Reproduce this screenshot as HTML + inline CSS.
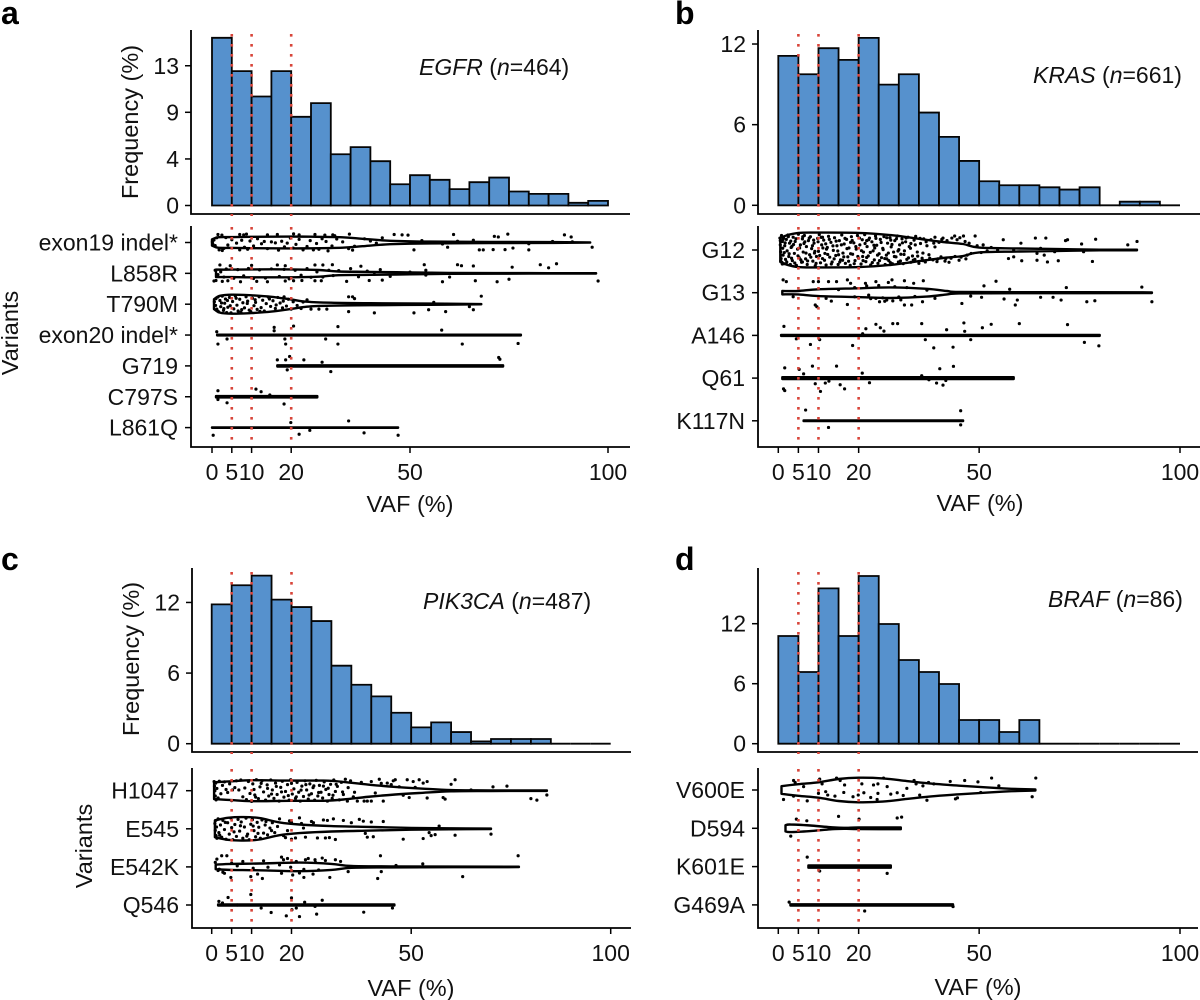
<!DOCTYPE html>
<html lang="en">
<head>
<meta charset="utf-8">
<title>VAF distributions</title>
<style>
html,body{margin:0;padding:0;background:#fff;}
svg{display:block;font-family:"Liberation Sans",sans-serif;}
</style>
</head>
<body>
<svg id="chart" xmlns="http://www.w3.org/2000/svg" width="1200" height="1000" viewBox="0 0 1200 1000"></svg>
<script>
const vafTicks=[0,5,10,20,50,100];
const cutoffs=[5,10,20];

const egfrBins=[15.6,12.5,10.14,12.5,8.25,9.52,4.77,5.43,4.12,1.98,2.82,2.39,1.52,2.17,2.6,1.3,1.08,1.08,.25,.43];
const krasBins=[11.12,9.75,11.69,10.82,12.46,8.98,9.75,6.9,5.09,3.3,1.79,1.49,1.49,1.34,1.17,1.34,0,.27,.27,0];
const pik3caBins=[11.84,13.46,14.28,12.24,11.61,10.42,6.63,5.01,4.02,2.63,1.39,1.81,.99,.2,.4,.4,.4,0,0,0];
const brafBins=[10.77,7.17,15.53,10.77,16.77,11.97,8.37,7.17,5.97,2.37,2.37,1.17,2.37,0,0,0,0,0,0,0];

const egfrFreqTicks=[0,4.33,8.67,13];
const egfrFreqLabels=["0","4","9","13"];
const krasFreqTicks=[0,6,12];
const krasFreqLabels=["0","6","12"];
const pik3caFreqTicks=[0,6,12];
const pik3caFreqLabels=["0","6","12"];
const brafFreqTicks=[0,6,12];
const brafFreqLabels=["0","6","12"];

const egfrVariants=["exon19 indel*","L858R","T790M","exon20 indel*","G719","C797S","L861Q"];
const krasVariants=["G12","G13","A146","Q61","K117N"];
const pik3caVariants=["H1047","E545","E542K","Q546"];
const brafVariants=["V600E","D594","K601E","G469A"];

/* violin outlines: [VAF, half width in jitter-band units] */
const egfrViolins=[
[[0,.25],[1.5,.42],[5,.44],[10,.46],[20,.48],[25,.47],[33,.42],[38,.3],[45,.14],[55,.07],[70,.05],[85,.03],[95.5,.01]],
[[1,.3],[5,.3],[10,.32],[20,.32],[27,.27],[32,.15],[40,.12],[50,.08],[60,.04],[80,.02],[97,.01]],
[[.5,.4],[2,.68],[5,.77],[10,.72],[15,.6],[20,.38],[24,.2],[30,.12],[40,.08],[55,.05],[68,.01]],
[[1.3,.03],[78,.03]],
[[16.5,.05],[73.5,.05]],
[[1,.05],[26.6,.05]],
[[0,.02],[47,.02]]
];
const krasViolins=[
[[.5,.7],[2,.85],[5,1],[10,1.02],[20,1],[28,.87],[37,.59],[41,.47],[46,.35],[50,.14],[60,.09],[70,.05],[80,.02],[89.3,.02]],
[[1,.1],[5,.1],[10,.2],[20,.26],[28,.31],[37,.23],[42,.1],[45,.04],[60,.03],[93,.02]],
[[.7,.03],[80,.03]],
[[1,.05],[58.6,.05]],
[[6.3,.02],[46,.02]]
];
const pik3caViolins=[
[[.6,.55],[5,.62],[10,.69],[20,.66],[28,.66],[33,.58],[40,.38],[46,.25],[52,.15],[60,.04],[70,.02],[84,.01]],
[[.8,.55],[4,.72],[8,.77],[12,.7],[17,.42],[22,.28],[30,.18],[40,.12],[50,.06],[60,.03],[70,.01]],
[[1,.15],[5,.2],[12,.22],[22,.28],[30,.2],[35,.06],[45,.03],[77,.01]],
[[1.6,.03],[45.8,.03]]
];
const brafViolins=[
[[.8,.25],[5,.38],[10,.5],[15,.72],[20,.8],[26,.76],[32,.58],[38,.42],[45,.28],[52,.17],[58,.08],[64,.03]],
[[1.8,.2],[3,.25],[8,.18],[14,.05],[17,.03],[20,.05],[30.5,.06]],
[[7.5,.07],[28,.07]],
[[3,.04],[43.5,.04]]
];

/* jittered samples: [VAF, jitter in hundredths of the band] */
const egfrExon19=[[1.5,-65],[2.5,-60],[7,-65],[8,-62],[8.7,-68],[14,-62],[16.5,-65],[20.6,-70],[22,-62],[26,-65],[28.5,-60],[30.5,-62],[31,-55],[34.7,-68],[46,-65],[48,-62],[49.5,-60],[61,-65],[71.3,-50],[72.3,-45],[74.7,-68],[89,-62],[90.7,-45],
[.2,12],[.1,-5],[.5,-20],[.8,25],[1.2,-38],[1.8,60],[2.6,65],[3,48],[3.5,-40],[4,20],[5,-22],[6.2,5],[7,60],[7.5,-18],[8.2,38],[9,55],[9.6,-12],[10.5,28],[11.5,-30],[12.5,10],[13.2,-8],[14,50],[15,-5],[16,3],[16.8,62],[17.6,-10],[18.3,35],[19,5],[19.8,-35],[20.5,45],[21.2,15],[22,-25],[23,60],[24,32],[24.8,-15],[25.6,60],[26.4,8],[27,55],[27.8,-30],[28.8,-8],[29.3,68],[30.3,28],[31.5,-28],[33,-5],[34.5,50],[35.5,62],[36,30],[38.5,-30],[40,-12],[41.5,5],[43,-38],[51,60],[53,-15],[58.2,12],[59.5,38],[62,-10],[67.5,60],[68.5,60],[71,58],[74,58],[76,45],[80,10],[80,60],[96,38],[86,-8],[66,-18],[91,-5]];
const egfrL858R=[[2,-68],[4.6,-62],[10,-65],[16.5,-68],[18.5,-62],[26,-68],[28,-68],[30.4,-70],[37.6,-58],[53.6,-70],[62,-70],[63,-62],[66,-60],[75.8,-50],[82.9,-70],[85,-45],[87,-78],
[.5,62],[1,58],[2.6,65],[4,60],[7.2,68],[11.3,65],[14,68],[18.5,62],[20.6,60],[22.7,58],[26,60],[27.6,60],[34,65],[39.7,58],[43,55],[58.2,68],[66.5,60],[72,68],[75,48],[97.5,62],
[.8,-25],[1.5,10],[2.2,-12],[3,30],[3.6,-35],[5.5,40],[6.5,-30],[8,20],[9.2,-40],[10.5,42],[12,-28],[13.5,38],[15,-35],[17,25],[18.2,-32],[19.5,45],[21,-25],[22.5,15],[24,-38],[25,32],[26.5,-12],[28,30],[29.5,-25],[30.6,18],[32,-22],[35,-38],[37,28],[39.2,-18],[41,8],[42.5,-30],[45,25],[50,-10],[54,-25],[54,14],[60,30]];
const egfrT790M=[[34.5,-60],[35.5,-60],[36,-45],[68,-65],[24,-35],[29,40],[27,40],[25,40],[34.5,60],[41,70],[51,70],[54.7,45],[59,60],[66,45],[65,20],[56,-15],
[.6,-20],[.9,10],[1.2,40],[1.5,-58],[1.7,62],[2,-30],[2.2,20],[2.6,-65],[2.9,50],[3.2,-8],[3.4,-42],[3.7,68],[4,25],[4.4,-55],[4.8,70],[5.2,-22],[5.5,38],[5.9,-66],[6.3,8],[6.6,55],[7,-40],[7.3,65],[7.8,-12],[8.2,30],[8.6,-60],[9,-25],[9.4,48],[9.8,60],[10.2,-48],[10.6,12],[11,-15],[11.4,42],[11.9,-60],[12.4,28],[12.8,-32],[13.2,55],[13.7,-5],[14.2,-58],[14.8,18],[15.4,-28],[16,35],[16.6,-55],[17.2,-10],[17.8,30],[18.2,-60],[18.8,15],[19.3,-40],[20,40],[20.5,-20],[21.5,10],[22.5,35],[23,-18],[1,-45],[1.4,55],[2.4,-10],[3,36],[3.9,-30],[4.6,12],[6.1,-48],[7.5,44],[8.9,-6],[10.9,-36],[12.1,58],[14.5,-42],[16.2,6],[18,-25]];
const egfrExon20=[[1.2,-27],[1.5,73],[3.8,32],[15.7,-62],[15.7,-35],[18.4,32],[18.6,73],[20.6,-73],[28.7,32],[31.8,-68],[31.8,73],[58,-40],[63.2,73],[77.3,68]];
const egfrG719=[[16.5,-49],[18.6,-49],[19.6,-76],[19,32],[23.2,-49],[27.8,-30],[30,46],[72.4,-68],[72.7,-54]];
const egfrC797S=[[1.5,-49],[1.5,22],[3.8,49],[11.1,-62],[12.4,-41],[18.2,59],[14.6,-14]];
const egfrL861Q=[[.3,62],[19.9,-41],[22,54],[24.7,22],[34.5,-54],[38.4,43],[47,62]];

const krasG12=[[.4,-70],[.5,-30],[.6,10],[.7,50],[.8,-85],[.9,72],[1,-50],[1.1,-10],[1.2,30],[1.3,-72],[1.4,80],[1.6,-25],[1.8,55],[2,-62],[2.2,5],[2.4,-88],[2.6,38],[2.8,-40],[3,85],[3.2,-15],[3.5,62],[3.7,-75],[4,20],[4.2,-50],[4.5,90],[4.8,-5],[5,-92],[5.2,45],[5.5,-30],[5.8,72],[6,-65],[6.2,12],[6.5,-85],[6.8,52],[7,-20],[7.2,85],[7.5,-55],[7.8,28],[8,-78],[8.3,-8],[8.6,65],[8.9,-40],[9.2,92],[9.5,38],[9.8,-68],[10,8],[10.2,-90],[10.5,75],[10.8,-30],[11,50],[11.3,-58],[11.6,20],[11.9,88],[12.2,-15],[12.5,-80],[12.8,42],[13.1,-45],[13.4,70],[13.7,2],[14,-72],[14.3,32],[14.6,-25],[14.9,85],[15.2,-55],[15.5,58],[15.8,-88],[16.1,18],[16.4,-35],[16.7,78],[17,-62],[17.3,40],[17.6,-12],[17.9,90],[18.2,-78],[18.5,25],[18.8,-42],[19.1,62],[19.4,-5],[19.7,-85],[20,48],[20.3,-30],[20.6,82],[20.9,-60],[21.2,12],[21.5,-90],[21.8,68],[22.1,-20],[22.4,35],[22.7,-70],[23,88],[23.3,-48],[23.6,5],[23.9,58],[24.2,-82],[24.5,-28],[24.8,78],[25.1,22],[25.4,-62],[25.7,45],[26,-10],[26.3,-78],[26.6,85],[26.9,30],[27.2,-40],[27.5,62],[27.8,-72],[28.1,-18],[28.4,80],[28.7,12],[29,-55],[29.3,40],[29.6,-82],[29.9,70],[30.2,-30],[30.5,25],[30.8,-65],[31.1,80],[31.4,5],[31.7,-48],[32,55],[32.3,-75],[32.6,-20],[33,72],[33.4,35],[33.8,-58],[34.2,-80],[34.6,12],[35,78],[35.4,-38],[35.8,48],[36.2,-65],[36.6,70],[37,-25],[37.5,28],[38,-60],[38.5,58],[39,-75],[39.5,68],[40,-45],[40.5,40],[41,-70],[41.5,65],[42,-55],[42.5,72],[43,48],[43.9,-82],[44.5,-60],[45,60],[45.5,42],[46.1,-82],[46.5,-50],[47,30],[47.5,-40],[48,20],[49,-82],[49.5,-25],[50.5,15],[51,-30],[52,5],[53,-15],[54.6,0],[56,-60],[57.3,50],[58.6,40],[58.6,0],[60.4,-40],[60.6,63],[64,-70],[64.4,20],[64.4,60],[65.3,-10],[66.2,30],[66.6,-70],[67,70],[68.8,10],[69.7,63],[71.5,-55],[72,-60],[75.5,-35],[76,10],[78.2,67],[79,-63],[87,-30],[89.3,-50],
[3.4,-22],[6.6,-48],[9,18],[12,-5],[15,28],[18,-45],[21,38],[24,-12],[27,52],[30,-2],[33,-38],[36,18],[39,-18],[6,70],[11,-75],[16,60],[22,-55],[28,-58],[34,55],
[.5,-55],[.6,64],[.7,-12],[.8,30],[1,82],[1.2,-62],[1.5,15],[1.7,-42],[2.1,70],[2.5,-78],[2.7,22],[3.1,-52],[3.3,48],[3.8,-32],[4.1,76],[4.4,-66],[4.9,34],[5.3,-12],[5.6,58],[6.1,-78],[6.4,-38],[6.9,18],[7.3,64],[7.7,-70],[8.1,42],[8.5,-25],[8.8,-58],[9.1,8],[9.4,78],[9.9,-48],[10.3,32],[10.7,-74],[11.1,-12],[11.5,60],[11.8,-36],[12.3,26],[12.7,-62],[13.2,82],[13.6,-24],[13.9,52],[14.4,-52],[14.8,6],[15.3,70],[15.7,-30],[16.3,40],[16.6,-68],[17.1,-8],[17.5,66],[18,22],[18.4,-56],[18.9,80],[19.3,-20],[19.8,38],[20.2,-70],[20.7,4],[21.1,62],[21.6,-38],[22,44],[22.5,-60],[22.9,14],[23.4,74],[23.8,-28],[24.3,-68],[24.7,30],[25.2,62],[25.6,-44],[26.1,-2],[26.5,50],[27,-72],[27.4,18],[27.9,74],[28.3,-32],[28.9,38],[29.4,-66],[29.8,6],[30.4,64],[30.9,-42],[31.3,26],[31.8,-70],[32.4,46],[32.9,-10],[33.6,60],[34.1,-30],[34.7,36],[35.3,-68],[36,62],[36.8,-48],[37.7,48],[38.7,-40],[39.7,52],[40.7,-62],[41.7,50],[43.2,-70],[44,38],[45.2,-72],[46.7,52]];
const krasG13=[[1.2,-75],[2,-65],[8.7,-65],[10,-65],[12.5,-65],[14.5,-65],[17.2,-75],[18,-55],[21.7,-55],[24.3,-65],[27.4,-60],[28.3,-75],[31.4,-70],[33.7,-55],[36.1,-70],[51.2,-40],[54.2,-67],[57.6,-20],[71.7,-30],[90.5,-33],
[3.7,24],[9.2,72],[9.6,82],[11.9,33],[13.2,49],[17.2,69],[19,24],[22.5,14],[24.3,33],[25.2,53],[27,43],[31.4,72],[33.2,72],[35.9,53],[39,33],[45.7,63],[47.9,20],[50.6,27],[56.2,37],[59,72],[59.5,43],[65.3,27],[68.4,27],[70.4,43],[76.8,53],[78.8,47],[93,53],
[15,-18],[19,-30],[22,-40],[25,-42],[26,30],[29,-35],[30,25],[32,-30],[34,22],[23,35],[26.5,50],[28.5,48],[30.5,42],[37,-15]];
const krasA146=[[1.4,-53],[4.5,20],[8,53],[10.3,25],[18.5,59],[21,-10],[21.8,-39],[24.3,-65],[25.4,-45],[26.3,-25],[28.5,-69],[29.7,-69],[35.7,-69],[36.6,25],[38.7,73],[41.9,-33],[43.5,69],[46.2,-73],[46.4,-24],[47.9,25],[50.8,-45],[53,-65],[60,-69],[72,-63],[76.2,41],[79.8,61]];
const krasQ61=[[1.6,-60],[1.3,63],[1.6,73],[5.2,-51],[6.3,-25],[8.5,-70],[9.2,33],[10.5,78],[11.7,29],[12.6,18],[14.5,-70],[15.4,39],[16.5,63],[20.9,-29],[22.7,27],[35.7,-14],[37.5,10],[39.4,29],[40.2,-55],[41,41],[41.7,14],[43.6,-69]];
const krasK117N=[[6.8,-63],[12.5,39],[45.4,-59],[45.4,24]];

const pikH1047=[[.6,-60],[.7,-30],[.8,0],[.9,35],[1,-50],[1.1,60],[1.3,-15],[1.6,48],[1.9,-62],[2.3,20],[2.7,-35],[3.2,-58],[3.6,-8],[4,12],[4.5,-45],[5,65],[5.2,-5],[5.8,-20],[6.2,-65],[6.8,-5],[7.3,-70],[7.8,40],[8.3,-18],[8.7,58],[9.2,-60],[9.6,18],[10,70],[10.3,-45],[10.8,28],[11.2,-72],[11.7,52],[12.1,-25],[12.6,-65],[13,8],[13.5,62],[13.9,-38],[14.3,35],[14.8,-70],[15.2,-5],[15.6,50],[16,-50],[16.4,25],[16.9,68],[17.3,-22],[17.7,-62],[18.1,42],[18.5,5],[19,-40],[19.4,62],[19.8,-72],[20.2,22],[20.6,-12],[21,50],[21.4,-55],[21.8,10],[22.2,68],[22.6,-30],[23,38],[23.4,-65],[23.8,-5],[24.2,55],[24.6,-45],[25,20],[25.4,-20],[25.8,62],[26.2,-68],[26.6,35],[27,-35],[27.4,10],[27.8,48],[28.2,-58],[28.6,-8],[29,68],[29.4,25],[29.8,-42],[30.2,50],[30.6,-70],[31,5],[31.5,-28],[32,60],[32.5,-55],[33,25],[33.5,-75],[34,68],[34.8,-65],[35.5,40],[36.5,68],[37.5,-55],[38.2,68],[39,68],[40,68],[40,-60],[41,15],[42,-75],[42.5,-48],[43,68],[44,-50],[45,-40],[45.5,-65],[46,-72],[47,-25],[48,30],[49,-72],[49.5,45],[50.5,-60],[51,-22],[52,-72],[53,-50],[54,-60],[54,48],[58,45],[58.5,55],[60,-42],[61,-72],[70.5,-25],[74,-30],[80,52],[81.5,62],[84,28],[65,-5],
[10.6,-8],[11,42],[12.4,-48],[14,-15],[15,22],[16.2,-28],[17.5,8],[19.2,32],[20,-48],[21.2,40],[22.4,-4],[23.6,-40],[24.4,28],[25.6,-32],[26.8,12],[28,-30],[29.2,-16],[30.4,30],[31.2,-42],[32.8,8],[34.2,-20],[35.8,10]];
const pikE545=[[.8,-35],[.9,10],[1,-55],[1.1,45],[1.2,-12],[1.3,62],[1.6,-65],[1.8,25],[2.2,-25],[2.5,55],[2.8,-55],[3.2,5],[3.6,68],[4,-40],[4.4,35],[4.8,-70],[5,-8],[5.3,72],[5.8,-28],[6.2,50],[6.6,-62],[7,15],[7.4,-45],[7.8,62],[8.2,-12],[8.6,-70],[9,35],[9.4,72],[9.8,-30],[10.2,-60],[10.6,12],[11,52],[11.4,-42],[11.8,-10],[12.2,62],[12.6,-58],[13,28],[13.4,-25],[14,40],[14.6,-5],[15.2,-40],[15.8,25],[16.5,-15],[17,-65],[18,45],[18.5,58],[19,12],[19.5,-52],[20,-42],[20,68],[21,60],[22,-72],[22.5,-35],[23,-5],[23.5,55],[25,-48],[25.5,-40],[26.5,60],[28,-58],[28.5,60],[29,-55],[29.5,58],[30.5,-65],[31,70],[33,-55],[35,-40],[37,-62],[38,-50],[38.5,30],[39,55],[40,-45],[40.5,52],[43,-48],[48,68],[53,64],[54.5,25],[56,38],[57,-18],[61,42],[70,35],[55,45],[2,42],[3.4,-42],[5.6,20],[7.2,-20],[8.8,48],[10.4,-18],[11.6,30],[13.6,-48],[15,12]];
const pikE542K=[[1.3,-51],[2.5,-73],[3.8,-73],[5,-24],[7.8,-36],[13,-40],[17.5,-64],[18,-47],[21.2,-36],[23.5,-47],[25.9,-47],[27.7,-58],[31,-47],[32.3,-36],[42.3,-73],[52.9,-20],[76.8,-73],[46.2,-9],[1.6,24],[3.2,42],[4.8,69],[9.8,64],[11.5,47],[12.7,76],[17.5,42],[20.3,53],[23.1,69],[25.4,47],[29.6,69],[34.2,31],[41.6,76],[42.5,31],[62.9,64],[6.4,-7],[10.4,9],[14.1,2],[17,-13],[19.8,2],[23.1,16],[26.8,20],[28.5,-42],[24.2,-55],[19,-55],[.9,-30],[1.9,15],[2.8,35],[26,-30],[22,40]];
const pikQ546=[[1.8,-24],[2.7,-13],[4.1,-49],[9.8,-69],[12.4,20],[14.9,49],[18.7,71],[20,-47],[20.1,31],[22,76],[23.3,-18],[26.3,60],[27.7,-31],[38.1,47],[45.3,20],[6.4,0],[21.2,20],[25.9,9]];

const brafV600E=[[3.8,-62],[4.2,-49],[6.3,-22],[10.3,-71],[10.9,-40],[14.5,-78],[15.4,-62],[16.5,-33],[20.8,-40],[23.7,-33],[24.8,-40],[26.2,-78],[27.1,-22],[32,-11],[33.8,-62],[34.3,-40],[36,-27],[37.4,-49],[38.7,-40],[42.8,-56],[46.4,-62],[49.7,-53],[53.1,-78],[54.9,-27],[64.1,-78],[1.3,62],[3.8,40],[7.2,71],[10,22],[11.8,11],[12.3,33],[14.1,40],[16.3,16],[18.6,44],[19.9,33],[21.3,18],[23,49],[24.8,22],[24.6,62],[28,27],[29.6,18],[31.1,36],[35.2,33],[37,67],[44.1,58],[44.6,51],[63.2,44],[50.4,16]];
const brafD594=[[4.5,-60],[7.1,-49],[15,-78],[20.1,-60],[29.6,-67],[30.7,-73],[3.1,51]];
const brafK601E=[[7.2,-62],[10.3,29],[27.1,44]];
const brafG469A=[[2.7,-18],[21.5,40],[43.5,11]];

const egfrPoints=[egfrExon19,egfrL858R,egfrT790M,egfrExon20,egfrG719,egfrC797S,egfrL861Q];
const krasPoints=[krasG12,krasG13,krasA146,krasQ61,krasK117N];
const pik3caPoints=[pikH1047,pikE545,pikE542K,pikQ546];
const brafPoints=[brafV600E,brafD594,brafK601E,brafG469A];

const svg=document.getElementById('chart');
const NS='http://www.w3.org/2000/svg';
function mk(tag,attrs,parent){
  const e=document.createElementNS(NS,tag);
  for(const k in attrs)e.setAttribute(k,attrs[k]);
  (parent||svg).appendChild(e);
  return e;
}
function smoothSide(pts){
  let d='';
  for(let i=1;i<pts.length;i++){
    const p0=pts[Math.max(i-2,0)],p1=pts[i-1],p2=pts[i],p3=pts[Math.min(i+1,pts.length-1)];
    const c1x=p1[0]+(p2[0]-p0[0])/6,c1y=p1[1]+(p2[1]-p0[1])/6;
    const c2x=p2[0]-(p3[0]-p1[0])/6,c2y=p2[1]-(p3[1]-p1[1])/6;
    d+='C'+c1x.toFixed(1)+' '+c1y.toFixed(1)+' '+c2x.toFixed(1)+' '+c2y.toFixed(1)+' '+p2[0].toFixed(1)+' '+p2[1].toFixed(1);
  }
  return d;
}
function drawPanel(p){
  const g=mk('g',{});
  
  
  const xs=v=>p.x0+v*(p.x100-p.x0)/100;
  const yh=f=>p.yh0-f*p.yhs;
  const yv=(i,j)=>p.yv0+(i+j*.4)*p.rowH;

  const letter=mk('text',{x:p.letterX,y:p.letterY,'font-size':32,'font-weight':'bold',fill:'#000'},g);
  letter.textContent=p.letter;
  
  

  const bw=5;
  p.bins.forEach((f,i)=>{
    const x1=xs(i*bw),x2=xs((i+1)*bw);
    const r=mk('path',{d:'M'+x1+' '+yh(0)+'V'+yh(f)+'H'+x2+'V'+yh(0)+'Z',fill:'#5691cd',stroke:'#050505','stroke-width':1.8,'stroke-linejoin':'miter'},g);
    
    
  });

  const ha=mk('path',{d:'M'+p.axisX+' '+p.histTop+'V'+p.histAxis+'H'+p.right,fill:'none',stroke:'#000','stroke-width':1.8},g);
  
  
  p.freqTicks.forEach((f,i)=>{
    const t=mk('line',{x1:p.axisX-6,x2:p.axisX,y1:yh(f),y2:yh(f),stroke:'#000','stroke-width':1.5},g);
    
    
    const l=mk('text',{x:p.axisX-12,y:yh(f)+8,'text-anchor':'end','font-size':23,fill:'#111'},g);
    l.textContent=p.freqLabels[i];
    
    
  });

  const title=mk('text',{x:p.titleX,y:p.titleY,'font-size':p.titleSize,fill:'#111'},g);
  
  
  mk('tspan',{'font-style':'italic'},title).textContent=p.gene;
  mk('tspan',{},title).textContent=' (';
  mk('tspan',{'font-style':'italic'},title).textContent='n';
  mk('tspan',{},title).textContent='='+p.n+')';

  const va=mk('path',{d:'M'+p.axisX+' '+p.violinTop+'V'+p.violinAxis+'H'+p.right,fill:'none',stroke:'#000','stroke-width':1.8},g);
  
  

  p.violins.forEach((prof,i)=>{
    const top=prof.map(q=>[xs(q[0]),yv(i,-q[1])]);
    const bot=prof.map(q=>[xs(q[0]),yv(i,q[1])]).reverse();
    const d='M'+top[0][0].toFixed(1)+' '+top[0][1].toFixed(1)+smoothSide(top)+'L'+bot[0][0].toFixed(1)+' '+bot[0][1].toFixed(1)+smoothSide(bot)+'Z';
    const v=mk('path',{d:d,fill:'#fff',stroke:'#000','stroke-width':2.4,'stroke-linejoin':'round'},g);
    
    
  });

  p.points.forEach((list,i)=>{
    list.forEach(q=>{
      const c=mk('circle',{cx:xs(q[0]),cy:yv(i,q[1]/100),r:1.6,fill:'#000'},g);
      
      
    });
  });

  p.variants.forEach((name,i)=>{
    const t=mk('line',{x1:p.axisX-6,x2:p.axisX,y1:yv(i,0),y2:yv(i,0),stroke:'#000','stroke-width':1.5},g);
    
    
    const l=mk('text',{x:p.axisX-13,y:yv(i,0)+8,'text-anchor':'end','font-size':23,fill:'#111'},g);
    l.textContent=name;
    
    
  });

  vafTicks.forEach(v=>{
    const t=mk('line',{x1:xs(v),x2:xs(v),y1:p.violinAxis,y2:p.violinAxis+6,stroke:'#000','stroke-width':1.5},g);
    
    
    const l=mk('text',{x:xs(v),y:p.violinAxis+33,'text-anchor':'middle','font-size':23,fill:'#111'},g);
    l.textContent=v;
    
    
  });

  cutoffs.forEach(v=>{
    const a=mk('line',{x1:xs(v),x2:xs(v),y1:p.histTop+4,y2:p.histAxis+2,stroke:'#d8453a','stroke-width':2.6,'stroke-dasharray':'2.6 7.4'},g);
    
    
    const b=mk('line',{x1:xs(v),x2:xs(v),y1:p.violinTop+1,y2:p.violinAxis,stroke:'#d8453a','stroke-width':2.6,'stroke-dasharray':'2.6 7.4'},g);
    
    
  });

  const xt=mk('text',{x:p.xTitleX,y:p.xTitleY,'text-anchor':'middle','font-size':23.5,fill:'#111'},g);
  xt.textContent='VAF (%)';
  
  

  if(p.showY){
    const fy=mk('text',{transform:'translate('+(p.axisX-53)+' '+p.freqTitleY+') rotate(-90)','text-anchor':'middle','font-size':23.5,fill:'#111'},g);
    fy.textContent='Frequency (%)';
    
    
    const vy=mk('text',{transform:'translate('+p.varTitleX+' '+p.varTitleY+') rotate(-90)','text-anchor':'middle','font-size':23.5,fill:'#111'},g);
    vy.textContent='Variants';
    
    
  }
}

drawPanel({letter:'a',letterX:1,letterY:24,gene:'EGFR',n:464,titleX:419,titleY:75,titleSize:23,
  x0:212,x100:608,yh0:205.5,yhs:10.75,axisX:191,right:630,histTop:30,histAxis:214,violinTop:226,violinAxis:447,
  yv0:242.5,rowH:30.85,bins:egfrBins,freqTicks:egfrFreqTicks,freqLabels:egfrFreqLabels,
  variants:egfrVariants,violins:egfrViolins,points:egfrPoints,
  xTitleX:410,xTitleY:512,showY:true,freqTitleY:122,varTitleX:18,varTitleY:333});
drawPanel({letter:'b',letterX:675,letterY:24,gene:'KRAS',n:661,titleX:1033,titleY:83,titleSize:23,
  x0:778.3,x100:1180,yh0:205.3,yhs:13.44,axisX:758,right:1200,histTop:30,histAxis:214,violinTop:226,violinAxis:447,
  yv0:250,rowH:42.7,bins:krasBins,freqTicks:krasFreqTicks,freqLabels:krasFreqLabels,
  variants:krasVariants,violins:krasViolins,points:krasPoints,
  xTitleX:980,xTitleY:511,showY:false});
drawPanel({letter:'c',letterX:1,letterY:570,gene:'PIK3CA',n:487,titleX:423,titleY:609,titleSize:23,
  x0:211.7,x100:610.7,yh0:743.7,yhs:11.77,axisX:192,right:631,histTop:568,histAxis:752,violinTop:768,violinAxis:928,
  yv0:790.7,rowH:38.1,bins:pik3caBins,freqTicks:pik3caFreqTicks,freqLabels:pik3caFreqLabels,
  variants:pik3caVariants,violins:pik3caViolins,points:pik3caPoints,
  xTitleX:411,xTitleY:996,showY:true,freqTitleY:659,varTitleX:92,varTitleY:846});
drawPanel({letter:'d',letterX:675,letterY:570,gene:'BRAF',n:86,titleX:1048,titleY:607,titleSize:23,
  x0:778.3,x100:1180,yh0:743.7,yhs:10,axisX:758,right:1198,histTop:568,histAxis:752,violinTop:768,violinAxis:928,
  yv0:790,rowH:38.3,bins:brafBins,freqTicks:brafFreqTicks,freqLabels:brafFreqLabels,
  variants:brafVariants,violins:brafViolins,points:brafPoints,
  xTitleX:978,xTitleY:995,showY:false});
</script>
</body>
</html>
